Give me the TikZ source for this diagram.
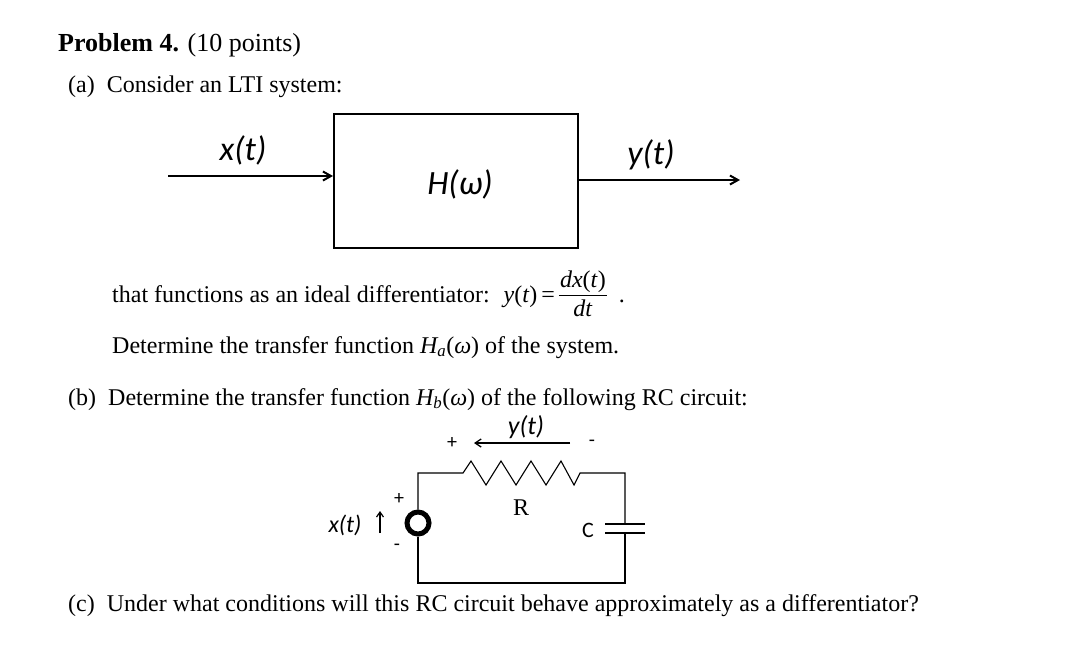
\documentclass[tikz,border=0pt]{standalone}
\usepackage{fontspec}
\setmainfont{Liberation Serif}
\newfontfamily\hand{Carlito}
\usetikzlibrary{arrows.meta}
\begin{document}
\begin{tikzpicture}[x=1pt,y=-1pt,
  txt/.style={anchor=base west,inner sep=0pt,font=\fontsize{24}{28}\selectfont},
  hw/.style={inner sep=0pt,font=\hand\itshape\fontsize{34}{40}\selectfont},
  small/.style={inner sep=0pt,font=\hand\fontsize{22}{26}\selectfont},
  pm/.style={inner sep=0pt,font=\hand\fontsize{20}{24}\selectfont},
  wire/.style={line width=1.1pt},
  sig/.style={line width=2pt,-{Straight Barb[length=8pt,width=9pt]}}]
\useasboundingbox (0,0) rectangle (1074,649);
\node[txt] (t0) at (58,51) {\fontsize{26}{30}\selectfont\textbf{Problem 4.} (10 points)};
\node[txt] (t1) at (68,92) {(a)\ \ Consider an LTI system:};
\node[draw,line width=1.5pt,minimum width=244pt,minimum height=134pt,anchor=north west] (blk) at (333,113) {};
\node[hw] (H) at (460,184) {H(ω)};
\coordinate (in) at (168,176);
\draw[sig] (in) -- (blk.west |- in);
\coordinate (out) at (740,180);
\draw[sig] (blk.east |- out) -- (out);
\node[hw] (x) at (243,150) {x(t)};
\node[hw] (y) at (651,155) {y(t)};
\node[txt] (t2) at (112,302) {that functions as an ideal differentiator:\hspace{14pt}\textit{y}(\textit{t})\,=\,\raisebox{-14pt}{\shortstack{\textit{dx}(\textit{t})\\[-1pt]\rule{48pt}{0.6pt}\\[1pt]\textit{dt}}}\ \ .};
\node[txt] (t3) at (112,353) {Determine the transfer function \textit{H\textsubscript{a}}(\textit{ω}) of the system.};
\node[txt] (t4) at (68,405) {(b)\ \ Determine the transfer function \textit{H\textsubscript{b}}(\textit{ω}) of the following RC circuit:};
\node[txt] (t5) at (68,611) {(c)\ \ Under what conditions will this RC circuit behave approximately as a differentiator?};
% circuit
\coordinate (tl) at (418,473); \coordinate (tr) at (625,473);
\coordinate (bl) at (418,583); \coordinate (br) at (625,583);
\node[circle,draw,line width=5pt,minimum size=22pt,inner sep=0pt] (src) at (418,523) {};
\coordinate (r1) at (463,473); \coordinate (r2) at (580,473);
\draw[wire] (src.north) -- (tl) -- (r1)
  -- (471,461) -- (486,485) -- (501,461) -- (516,485) -- (531,461) -- (546,485) -- (561,461) -- (574,485) -- (r2) -- (tr) -- (625,524);
\coordinate (c1) at (625,524); \coordinate (c2) at (625,533);
\draw[wire] (605,524) -- (645,524) (605,533) -- (645,533);
\draw[wire] (c2) -- (br) -- (bl) -- (src.south);
\node[txt,anchor=center] (R) at (521,508) {R};
\node[small,anchor=center] (C) at (588,530) {C};
\node[small,font=\hand\itshape\fontsize{24}{28}\selectfont] (xs) at (345,525) {x(t)};
\coordinate (a1) at (380,533); \coordinate (a2) at (380,511);
\draw[line width=1.2pt,-{Straight Barb[length=5pt,width=7pt]}] (a1) -- (a2);
\node[pm] (p1) at (399,499) {+};
\node[pm] (m1) at (397,547) {-};
\node[small,font=\hand\itshape\fontsize{26}{30}\selectfont] (ys) at (526,427) {y(t)};
\coordinate (b1) at (570,443); \coordinate (b2) at (474,443);
\draw[line width=1.3pt,-{Straight Barb[length=6pt,width=8pt]}] (b1) -- (b2);
\node[pm] (p2) at (452,443) {+};
\node[pm] (m2) at (592,443) {-};
\end{tikzpicture}
\end{document}
